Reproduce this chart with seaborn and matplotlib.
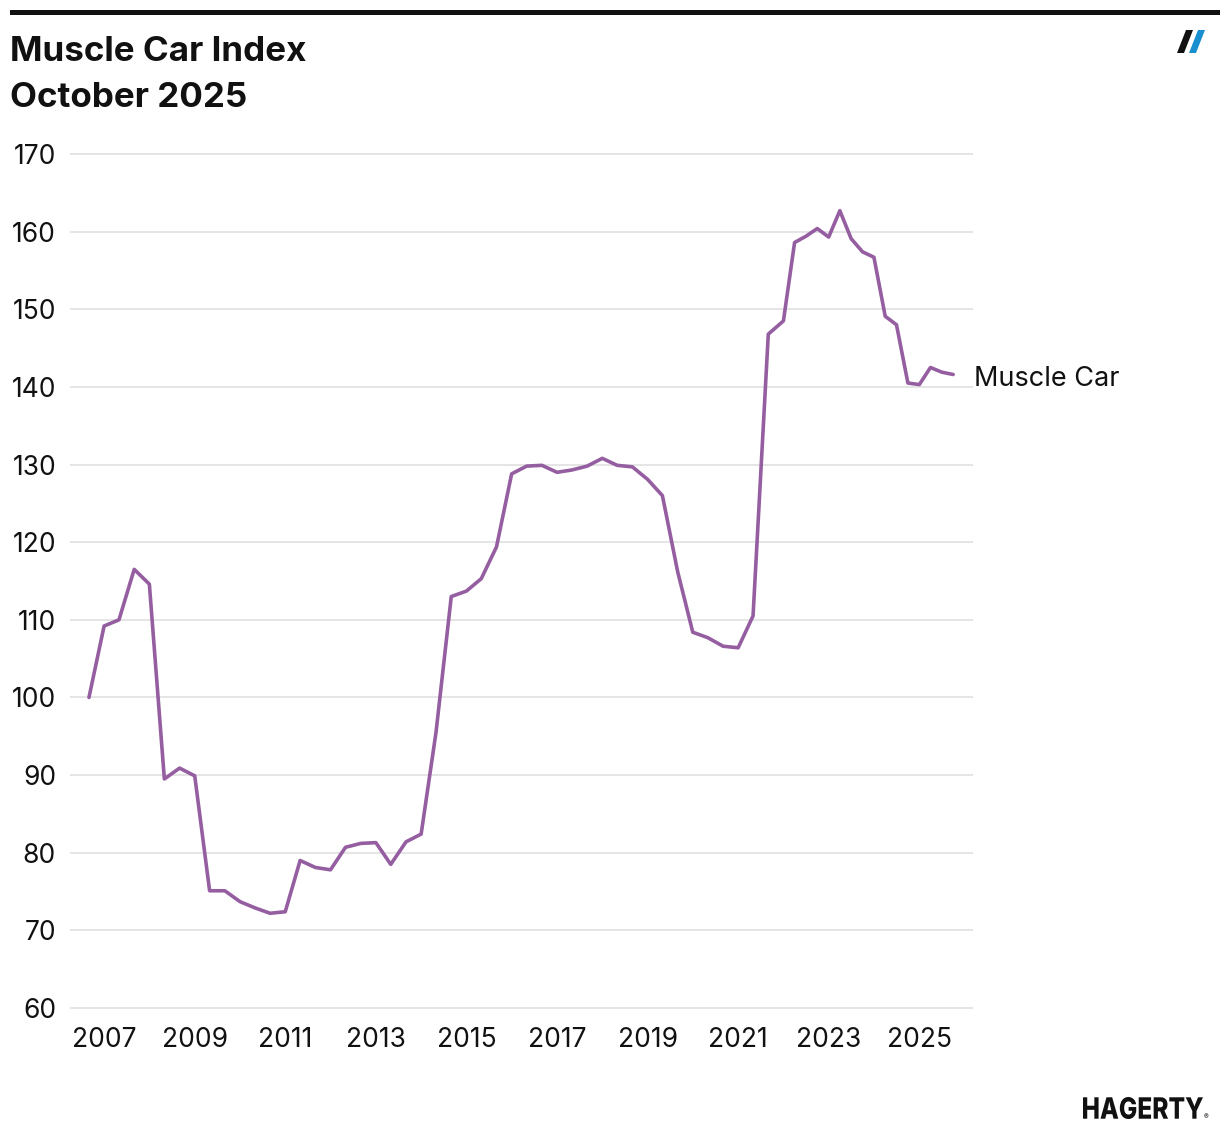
import numpy as np
import pandas as pd
import matplotlib
matplotlib.use("Agg")
import matplotlib.pyplot as plt
from matplotlib.textpath import TextPath
from matplotlib.patches import PathPatch, Polygon, Rectangle
from matplotlib.font_manager import FontProperties
from matplotlib.transforms import Affine2D
import seaborn as sns

# ---------------- data ----------------
dates = [
    "2006-09-01", "2007-01-01", "2007-05-01", "2007-09-01",
    "2008-01-01", "2008-05-01", "2008-09-01",
    "2009-01-01", "2009-05-01", "2009-09-01",
    "2010-01-01", "2010-05-01", "2010-09-01",
    "2011-01-01", "2011-05-01", "2011-09-01",
    "2012-01-01", "2012-05-01", "2012-09-01",
    "2013-01-01", "2013-05-01", "2013-09-01",
    "2014-01-01", "2014-05-01", "2014-09-01",
    "2015-01-01", "2015-05-01", "2015-09-01",
    "2016-01-01", "2016-05-01", "2016-09-01",
    "2017-01-01", "2017-05-01", "2017-09-01",
    "2018-01-01", "2018-05-01", "2018-09-01",
    "2019-01-01", "2019-05-01", "2019-09-01",
    "2020-01-01", "2020-05-01", "2020-09-01",
    "2021-01-01", "2021-05-01", "2021-09-01",
    "2022-01-01", "2022-04-01", "2022-07-01", "2022-10-01",
    "2023-01-01", "2023-04-01", "2023-07-01", "2023-10-01",
    "2024-01-01", "2024-04-01", "2024-07-01", "2024-10-01",
    "2025-01-01", "2025-04-01", "2025-07-01", "2025-10-01",
]
muscle_car = [
    100.0, 109.2, 110.0, 116.5,
    114.6, 89.5, 90.9,
    89.9, 75.1, 75.1,
    73.7, 72.9, 72.2,
    72.4, 79.0, 78.1,
    77.8, 80.7, 81.2,
    81.3, 78.5, 81.4,
    82.4, 95.5, 113.0,
    113.7, 115.3, 119.4,
    128.8, 129.8, 129.9,
    129.0, 129.3, 129.8,
    130.8, 129.9, 129.7,
    128.1, 126.0, 116.2,
    108.4, 107.7, 106.6,
    106.4, 110.5, 146.8,
    148.5, 158.6, 159.4, 160.4,
    159.3, 162.7, 159.1, 157.4,
    156.7, 149.1, 148.0, 140.5,
    140.3, 142.5, 141.9, 141.6,
]
series_name = "Muscle Car"
title_lines = ["Muscle Car Index", "October 2025"]
y_ticks = [60, 70, 80, 90, 100, 110, 120, 130, 140, 150, 160, 170]
x_tick_years = [2007, 2009, 2011, 2013, 2015, 2017, 2019, 2021, 2023, 2025]

df = pd.DataFrame({"date": pd.to_datetime(dates), "value": muscle_car})

# ---------------- style ----------------
sns.set_theme(style="white")
plt.rcParams["font.family"] = ["Inter", "DejaVu Sans"]

W, H = 1220, 1130
fig = plt.figure(figsize=(W / 100, H / 100), dpi=100)
fig.patch.set_facecolor("white")

def fx(x):
    return x / W

def fy(y):
    return 1 - y / H

# axes placement (pixels): x 70..973, value 170 at y=154, 60 at y=1008
ppu = (1008 - 154) / 110.0
ylo, yhi = 59.5, 170.5
ax_top = 154 - (yhi - 170) * ppu
ax_bot = 1008 + (60 - ylo) * ppu
ax = fig.add_axes([fx(70), fy(ax_bot), fx(973) - fx(70), (ax_bot - ax_top) / H])

line_color = "#955ea1"
sns.lineplot(data=df, x="date", y="value", ax=ax, color=line_color,
             linewidth=2.6, legend=False)

ax.set_ylim(ylo, yhi)
ax.set_xlim(pd.Timestamp("2006-04-01"), pd.Timestamp("2026-03-10"))
ax.set_yticks(y_ticks)
ax.set_yticklabels([str(v) for v in y_ticks])
ax.set_xticks([pd.Timestamp(f"{y}-01-01") for y in x_tick_years])
ax.set_xticklabels([str(y) for y in x_tick_years])
ax.grid(axis="y", color="#e3e3e3", linewidth=1.3)
ax.grid(axis="x", visible=False)
for s in ax.spines.values():
    s.set_visible(False)
ax.tick_params(axis="both", length=0, labelsize=19, colors="#111111")
ax.tick_params(axis="y", pad=10)
ax.tick_params(axis="x", pad=11)
ax.set_xlabel("")
ax.set_ylabel("")

# end label
ax.annotate(series_name, xy=(df["date"].iloc[-1], df["value"].iloc[-1]),
            xytext=(15, -3), textcoords="offset points", va="center", ha="left",
            fontsize=19.5, color="#111111")

# title
fig.text(fx(10), fy(61), title_lines[0], fontsize=25.2, fontweight="bold",
         color="#111111", va="baseline", ha="left")
fig.text(fx(10), fy(107), title_lines[1], fontsize=25.2, fontweight="bold",
         color="#111111", va="baseline", ha="left")

# top rule
fig.add_artist(Rectangle((fx(10), fy(14.5)), fx(1220) - fx(10), 4 / H,
                         transform=fig.transFigure, color="#111111", lw=0))

# top-right logo marks
black = [(1177, 53), (1184, 53), (1193, 30), (1186, 30)]
blue = [(1189, 53), (1196, 53), (1205, 30), (1198, 30)]
fig.add_artist(Polygon([(fx(a), fy(b)) for a, b in black], closed=True,
                       transform=fig.transFigure, color="#111111", lw=0))
fig.add_artist(Polygon([(fx(a), fy(b)) for a, b in blue], closed=True,
                       transform=fig.transFigure, color="#1a8fd0", lw=0))

# HAGERTY wordmark (condensed by scaling a text path)
def fit_text(s, box, weight="heavy", color="#111111"):
    fp = FontProperties(family="Inter", weight=weight)
    tp = TextPath((0, 0), s, size=100, prop=fp)
    ext = tp.get_extents()
    x0, y0, x1, y1 = box  # pixel box, top-left origin
    sx = (fx(x1) - fx(x0)) / ext.width
    sy = (fy(y0) - fy(y1)) / ext.height
    tr = Affine2D().translate(-ext.x0, -ext.y0).scale(sx, sy).translate(fx(x0), fy(y1))
    path = tr.transform_path(tp)
    fig.add_artist(PathPatch(path, transform=fig.transFigure, color=color, lw=0))

fit_text("HAGERTY", (1083, 1097, 1203, 1119))
fig.text(fx(1204), fy(1119), "®", fontsize=5, color="#111111", va="baseline", ha="left")

fig.savefig("out.png", dpi=100, facecolor="white")
